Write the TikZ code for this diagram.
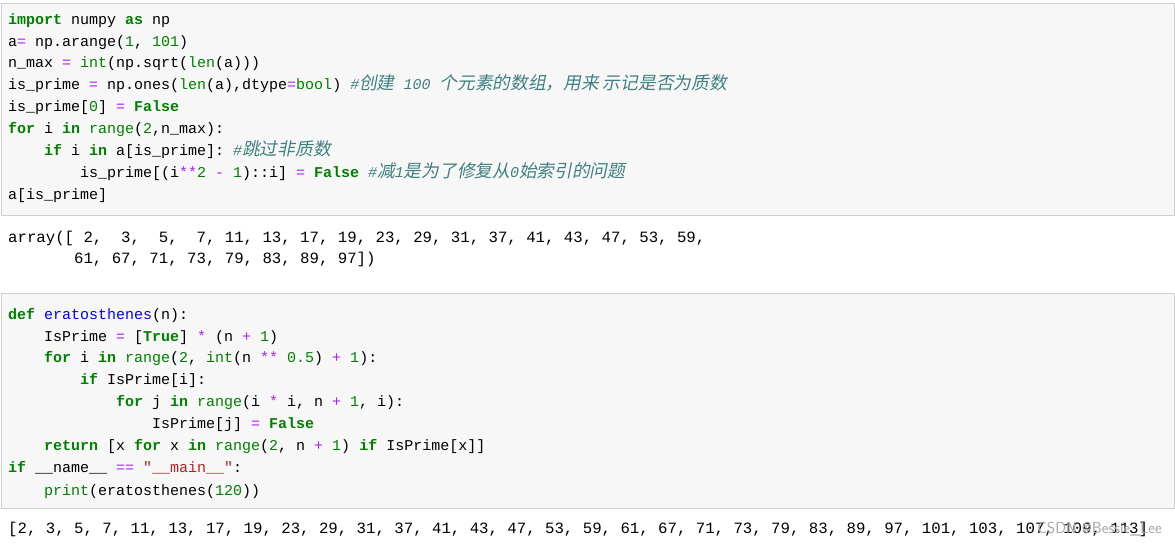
\documentclass[tikz,border=0pt]{standalone}
\usepackage{fontspec}
\setmonofont{Liberation Mono}
\newfontfamily\cjk[AutoFakeSlant=0.2,Scale=1.18]{Noto Sans CJK SC}
\definecolor{cellbg}{HTML}{F7F7F7}
\definecolor{cellline}{HTML}{CFCFCF}
\definecolor{kwgreen}{HTML}{008000}
\definecolor{opviolet}{HTML}{AA22FF}
\definecolor{cmteal}{HTML}{408080}
\definecolor{strred}{HTML}{BA2121}
\definecolor{fnblue}{HTML}{0000FF}
\newcommand{\kw}[1]{\textcolor{kwgreen}{\textbf{#1}}}
\newcommand{\bi}[1]{\textcolor{kwgreen}{#1}}
\newcommand{\op}[1]{\textcolor{opviolet}{#1}}
\newcommand{\cm}[1]{\textcolor{cmteal}{\itshape #1}}
\newcommand{\st}[1]{\textcolor{strred}{#1}}
\newcommand{\fn}[1]{\textcolor{fnblue}{#1}}
\newcommand{\ind}[1]{\hspace*{#1\dimexpr 0.6em\relax}}
\begin{document}
\begin{tikzpicture}[x=1pt,y=-1pt]
\tikzset{code/.style={anchor=base west,inner sep=0pt,font=\ttfamily\fontsize{15}{15}\selectfont}}
\tikzset{outtext/.style={code,font=\ttfamily\fontsize{15.7}{15.7}\selectfont}}
\tikzset{cell/.style={fill=cellbg,draw=cellline,line width=1pt}}
\useasboundingbox (0,0) rectangle (1175,549);
\clip (0,0) rectangle (1175,549);
\fill[white] (0,0) rectangle (1175,549);
% input cells
\draw[cell] (1,3) rectangle (1174,215);
\draw[cell] (1,293) rectangle (1174,508);
% first cell
\node[code] (A_1) at (8,24) {\kw{import} numpy \kw{as} np};
\node[code] (A_2) at (8,46) {a\op{=} np.arange(\bi{1}, \bi{101})};
\node[code] (A_3) at (8,67) {n\_max \op{=} \bi{int}(np.sqrt(\bi{len}(a)))};
\node[code] (A_4) at (8,89) {is\_prime \op{=} np.ones(\bi{len}(a),dtype\op{=}\bi{bool}) \cm{\#{\cjk 创建} 100 {\cjk 个元素的数组，用来 示记是否为质数}}};
\node[code] (A_5) at (8,111) {is\_prime[\bi{0}] \op{=} \kw{False}};
\node[code] (A_6) at (8,133) {\kw{for} i \kw{in} \bi{range}(\bi{2},n\_max):};
\node[code] (A_7) at (8,155) {\ind{4}\kw{if} i \kw{in} a[is\_prime]: \cm{\#{\cjk 跳过非质数}}};
\node[code] (A_8) at (8,177) {\ind{8}is\_prime[(i\op{**}\bi{2} \op{-} \bi{1})::i] \op{=} \kw{False} \cm{\#{\cjk 减}1{\cjk 是为了修复从}0{\cjk 始索引的问题}}};
\node[code] (A_9) at (8,199) {a[is\_prime]};
% first output
\node[outtext] (O_1) at (8,242) {array([ 2,~ 3,~ 5,~ 7, 11, 13, 17, 19, 23, 29, 31, 37, 41, 43, 47, 53, 59,};
\node[outtext] (O_2) at (8,263) {\ind{7}61, 67, 71, 73, 79, 83, 89, 97])};
% second cell
\node[code] (B_1) at (8,319) {\kw{def} \fn{eratosthenes}(n):};
\node[code] (B_2) at (8,341) {\ind{4}IsPrime \op{=} [\kw{True}] \op{*} (n \op{+} \bi{1})};
\node[code] (B_3) at (8,362) {\ind{4}\kw{for} i \kw{in} \bi{range}(\bi{2}, \bi{int}(n \op{**} \bi{0.5}) \op{+} \bi{1}):};
\node[code] (B_4) at (8,384) {\ind{8}\kw{if} IsPrime[i]:};
\node[code] (B_5) at (8,406) {\ind{12}\kw{for} j \kw{in} \bi{range}(i \op{*} i, n \op{+} \bi{1}, i):};
\node[code] (B_6) at (8,428) {\ind{16}IsPrime[j] \op{=} \kw{False}};
\node[code] (B_7) at (8,450) {\ind{4}\kw{return} [x \kw{for} x \kw{in} \bi{range}(\bi{2}, n \op{+} \bi{1}) \kw{if} IsPrime[x]]};
\node[code] (B_8) at (8,472) {\kw{if} \_\_name\_\_ \op{==} \st{"\_\_main\_\_"}:};
\node[code] (B_9) at (8,495) {\ind{4}\bi{print}(eratosthenes(\bi{120}))};
% second output
\node[outtext] (O_3) at (8,533) {[2, 3, 5, 7, 11, 13, 17, 19, 23, 29, 31, 37, 41, 43, 47, 53, 59, 61, 67, 71, 73, 79, 83, 89, 97, 101, 103, 107, 109, 113]};
\node[anchor=base east,inner sep=0pt,text=black!35,font=\sffamily\fontsize{16}{16}\selectfont] (wm) at (1162,533) {CSDN @Bessie\_Lee};
\end{tikzpicture}
\end{document}
